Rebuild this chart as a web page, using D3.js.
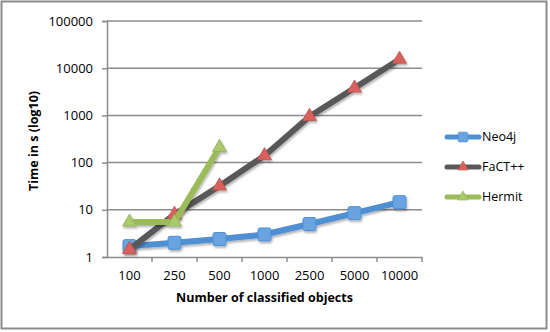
<!DOCTYPE html>
<html lang="en">
<head>
<meta charset="UTF-8">
<title>Reasoner timing</title>
<script src="https://d3js.org/d3.v7.min.js"></script>
<style>
    body { margin: 0; background: #fff; }
    text { font-family: "Open Sans", "Liberation Sans", sans-serif; fill: #000; }
    .tick-label { font-size: 13px; }
    .axis-title { font-size: 12.5px; font-weight: bold; }
    .legend-label { font-size: 12.5px; }
</style>
</head>
<body>
<script>
// data
const categories = ["100", "250", "500", "1000", "2500", "5000", "10000"];
const neo4j  = [1.7, 2.0, 2.4, 3.0, 5.0, 8.5, 14.5];
const fact   = [1.45, 8, 32, 140, 950, 3800, 15500];
const hermit = [5.5, 5.5, 210];
const yTicks = [1, 10, 100, 1000, 10000, 100000];

const series = [
    {name: "Neo4j",  values: neo4j,  line: "#4f8fd3", marker: "square",   fill: "#6aa4e0"},
    {name: "FaCT++", values: fact,   line: "#595959", marker: "triangle", fill: "#d9615b"},
    {name: "Hermit", values: hermit, line: "#9bbb59", marker: "triangle", fill: "#a9c96a"}
];

const width = 550, height = 332;
const plot = {left: 107, right: 422, top: 21, bottom: 257};

const svg = d3.select("body").append("svg")
    .attr("width", width)
    .attr("height", height);

const defs = svg.append("defs");
const shadow = defs.append("filter").attr("id", "shadow")
    .attr("x", "-30%").attr("y", "-30%").attr("width", "160%").attr("height", "160%");
shadow.append("feDropShadow")
    .attr("dx", 1).attr("dy", 2).attr("stdDeviation", 1.2)
    .attr("flood-color", "#000").attr("flood-opacity", 0.3);

// outer frame
svg.append("rect")
    .attr("x", 1.5).attr("y", 1.5)
    .attr("width", 545).attr("height", 327)
    .attr("fill", "#fff")
    .attr("stroke", "#8c8c8c")
    .attr("stroke-width", 2);

const x = d3.scaleBand()
    .domain(categories)
    .range([plot.left, plot.right]);

const y = d3.scaleLog()
    .domain([1, 100000])
    .range([plot.bottom, plot.top]);

// horizontal gridlines
svg.append("g")
    .selectAll("line")
    .data(yTicks.slice(1))
    .enter().append("line")
    .attr("x1", plot.left).attr("x2", plot.right)
    .attr("y1", d => y(d)).attr("y2", d => y(d))
    .attr("stroke", "#8c8c8c")
    .attr("stroke-width", 1.5);

// y axis
const yAxis = svg.append("g")
    .attr("transform", `translate(${plot.left},0)`)
    .call(d3.axisLeft(y).tickValues(yTicks).tickFormat(d3.format("d")).tickSize(5).tickPadding(9));
yAxis.select(".domain").attr("stroke", "#8c8c8c").attr("stroke-width", 1.5);
yAxis.selectAll(".tick line").attr("stroke", "#8c8c8c").attr("stroke-width", 1.5);
yAxis.selectAll(".tick text").attr("class", "tick-label").attr("font-family", null).attr("font-size", null);

// x axis
const xAxis = svg.append("g")
    .attr("transform", `translate(0,${plot.bottom})`)
    .call(d3.axisBottom(x).tickSize(0).tickPadding(14));
xAxis.select(".domain").attr("stroke", "#8c8c8c").attr("stroke-width", 1.5);
xAxis.selectAll(".tick text").attr("class", "tick-label").attr("font-family", null).attr("font-size", null);

// category boundary ticks
svg.append("g")
    .selectAll("line")
    .data(categories)
    .enter().append("line")
    .attr("x1", d => x(d) + x.bandwidth()).attr("x2", d => x(d) + x.bandwidth())
    .attr("y1", plot.bottom).attr("y2", plot.bottom + 5)
    .attr("stroke", "#8c8c8c")
    .attr("stroke-width", 1.5);

// axis titles
svg.append("text")
    .attr("class", "axis-title")
    .attr("x", (plot.left + plot.right) / 2)
    .attr("y", 302)
    .attr("text-anchor", "middle")
    .text("Number of classified objects");

svg.append("text")
    .attr("class", "axis-title")
    .attr("transform", `translate(38,${(plot.top + plot.bottom) / 2 + 2}) rotate(-90)`)
    .attr("text-anchor", "middle")
    .text("Time in s (log10)");

const line = d3.line()
    .x((d, i) => x(categories[i]) + x.bandwidth() / 2)
    .y(d => y(d));

function drawMarker(g, type, fill, stroke) {
    if (type === "square") {
        g.append("rect")
            .attr("x", -6.5).attr("y", -6.5)
            .attr("width", 13).attr("height", 13)
            .attr("rx", 2)
            .attr("fill", fill)
            .attr("stroke", stroke)
            .attr("stroke-width", 1);
    } else {
        g.append("path")
            .attr("d", d3.symbol().type(d3.symbolTriangle).size(85)())
            .attr("fill", fill)
            .attr("stroke", d3.color(fill).darker(0.4))
            .attr("stroke-width", 0.8);
    }
}

// draw series in order, later ones on top
series.forEach(s => {
    const g = svg.append("g").attr("filter", "url(#shadow)");
    g.append("path")
        .datum(s.values)
        .attr("d", line)
        .attr("fill", "none")
        .attr("stroke", s.line)
        .attr("stroke-width", 6)
        .attr("stroke-linejoin", "round");

    g.selectAll("g.mark")
        .data(s.values)
        .enter().append("g")
        .attr("class", "mark")
        .attr("transform", (d, i) => `translate(${x(categories[i]) + x.bandwidth() / 2},${y(d)})`)
        .each(function() { drawMarker(d3.select(this), s.marker, s.fill, s.line); });
});

// legend
const legend = svg.append("g")
    .selectAll("g")
    .data(series)
    .enter().append("g")
    .attr("transform", (d, i) => `translate(447,${137 + i * 30})`);

legend.append("line")
    .attr("x1", 0).attr("x2", 32)
    .attr("stroke", d => d.line)
    .attr("stroke-width", 5)
    .attr("stroke-linecap", "round");

legend.each(function(d) {
    const g = d3.select(this).append("g").attr("transform", "translate(16,0) scale(0.75)");
    drawMarker(g, d.marker, d.fill, d.line);
});

legend.append("text")
    .attr("class", "legend-label")
    .attr("x", 35)
    .attr("dy", "0.35em")
    .text(d => d.name);
</script>
</body>
</html>
